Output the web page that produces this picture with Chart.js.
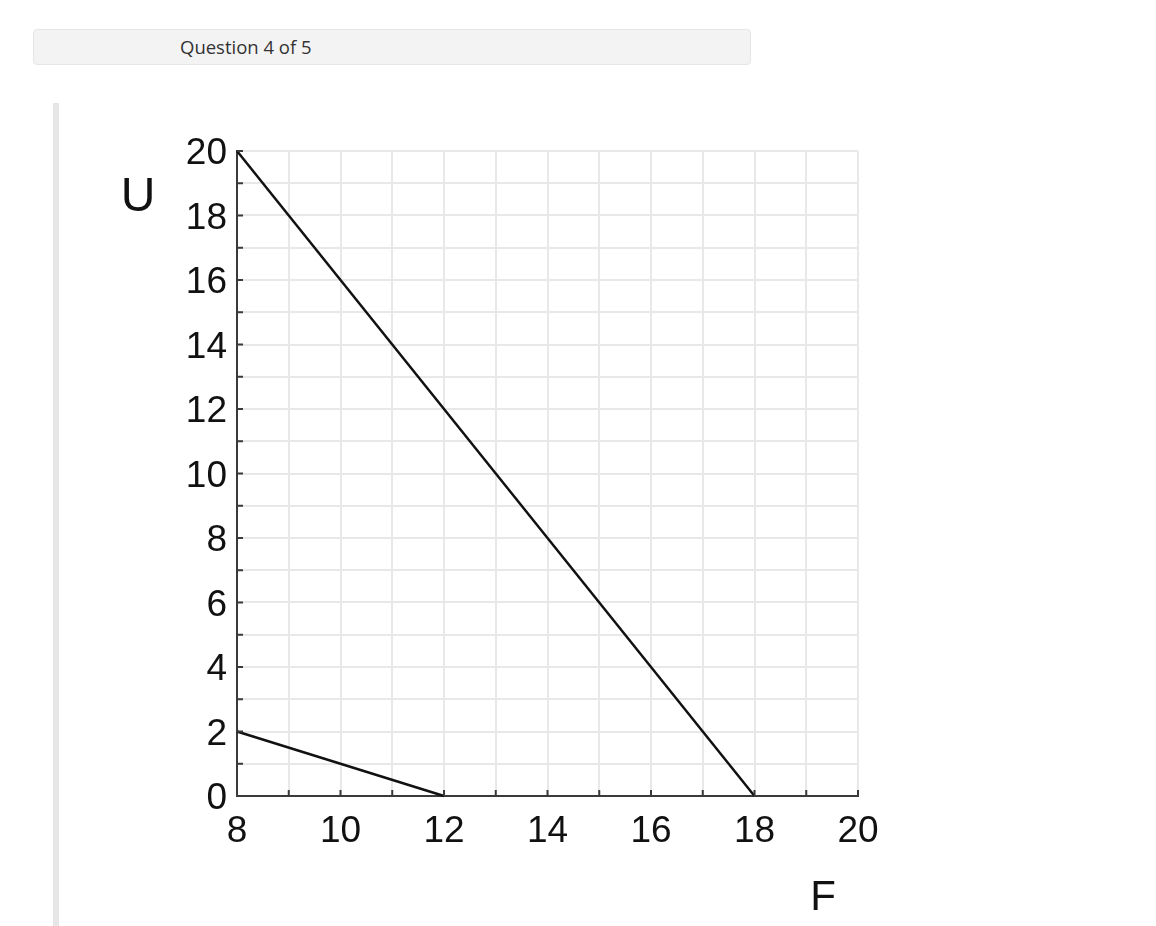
<!DOCTYPE html>
<html>
<head>
<meta charset="utf-8">
<script src="https://cdn.jsdelivr.net/npm/chart.js"></script>
<style>
  html, body { margin: 0; padding: 0; background: #fff; }
  body { width: 1156px; height: 926px; position: relative; overflow: hidden; }
  .header {
    position: absolute; left: 33px; top: 29px; width: 716px; height: 34px;
    background: #f3f3f3; border: 1px solid #e6e6e6; border-radius: 4px;
    font-family: "Open Sans", sans-serif; font-size: 18.5px; color: #333;
    line-height: 34px; box-sizing: content-box;
  }
  .header span { position: absolute; left: 146px; }
  .sidebar { position: absolute; left: 53px; top: 103px; width: 6px; height: 823px; background: #e6e6e6; }
  .chartBox { position: absolute; left: 60px; top: 100px; width: 860px; height: 826px; }
</style>
</head>
<body>
<div class="header"><span>Question 4 of 5</span></div>
<div class="sidebar"></div>
<div class="chartBox"><canvas id="myChart"></canvas></div>
<script>
// Achsen
const xMin = 8, xMax = 20;
const yMin = 0, yMax = 20;
const xTitle = 'F';
const yTitle = 'U';

// Linien
const upperF = [8, 18];
const upperU = [20, 0];
const lowerF = [8, 12];
const lowerU = [2, 0];

function toPoints(xs, ys) {
    return xs.map((x, i) => ({ x: x, y: ys[i] }));
}

const tickFont = { family: '"Liberation Sans", Arial, sans-serif', size: 37 };

// kleine Striche nach innen + Achsentitel
const extras = {
    id: 'extras',
    afterDatasetsDraw(chart) {
        const c = chart.ctx;
        const area = chart.chartArea;
        const xs = chart.scales.x, ys = chart.scales.y;
        c.save();
        c.strokeStyle = '#3a3a3a';
        c.lineWidth = 2;
        c.beginPath();
        for (let v = xMin; v <= xMax; v++) {
            const px = xs.getPixelForValue(v);
            c.moveTo(px, area.bottom);
            c.lineTo(px, area.bottom - 6);
        }
        for (let v = yMin; v <= yMax; v++) {
            const py = ys.getPixelForValue(v);
            c.moveTo(area.left, py);
            c.lineTo(area.left + 6, py);
        }
        c.stroke();

        c.fillStyle = '#111';
        c.textAlign = 'center';
        c.textBaseline = 'middle';
        c.font = '48px "Liberation Sans", Arial, sans-serif';
        c.fillText(yTitle, area.left - 99, area.top + 47);
        c.font = '42px "Liberation Sans", Arial, sans-serif';
        c.fillText(xTitle, area.right - 35, area.bottom + 102);
        c.restore();
    }
};

const ctx = document.getElementById('myChart');

new Chart(ctx, {
    type: 'scatter',
    data: {
        datasets: [{
            data: toPoints(upperF, upperU),
            showLine: true,
            borderColor: '#111',
            borderWidth: 2.5,
            pointRadius: 0
        }, {
            data: toPoints(lowerF, lowerU),
            showLine: true,
            borderColor: '#111',
            borderWidth: 2.5,
            pointRadius: 0
        }]
    },
    options: {
        responsive: true,
        maintainAspectRatio: false,
        animation: false,
        layout: { padding: { top: 51, right: 62, left: 0, bottom: 0 } },
        plugins: { legend: { display: false }, tooltip: { enabled: false } },
        elements: { line: { tension: 0 } },
        datasets: { scatter: { clip: false } },
        scales: {
            x: {
                type: 'linear',
                min: xMin, max: xMax,
                afterFit(s) { s.height = 130; },
                grid: { color: '#e8e8e8', lineWidth: 2, drawTicks: false },
                border: { color: '#3a3a3a', width: 2 },
                ticks: {
                    stepSize: 1,
                    padding: 14,
                    color: '#111',
                    font: tickFont,
                    maxRotation: 0,
                    autoSkip: false,
                    callback: v => (v % 2 === 0 ? String(v) : '')
                }
            },
            y: {
                type: 'linear',
                min: yMin, max: yMax,
                afterFit(s) { s.width = 177; },
                grid: { color: '#e8e8e8', lineWidth: 2, drawTicks: false },
                border: { color: '#3a3a3a', width: 2 },
                ticks: {
                    stepSize: 1,
                    padding: 10,
                    labelOffset: 3,
                    color: '#111',
                    font: tickFont,
                    autoSkip: false,
                    callback: v => (v % 2 === 0 ? String(v) : '')
                }
            }
        }
    },
    plugins: [extras]
});
</script>
</body>
</html>
